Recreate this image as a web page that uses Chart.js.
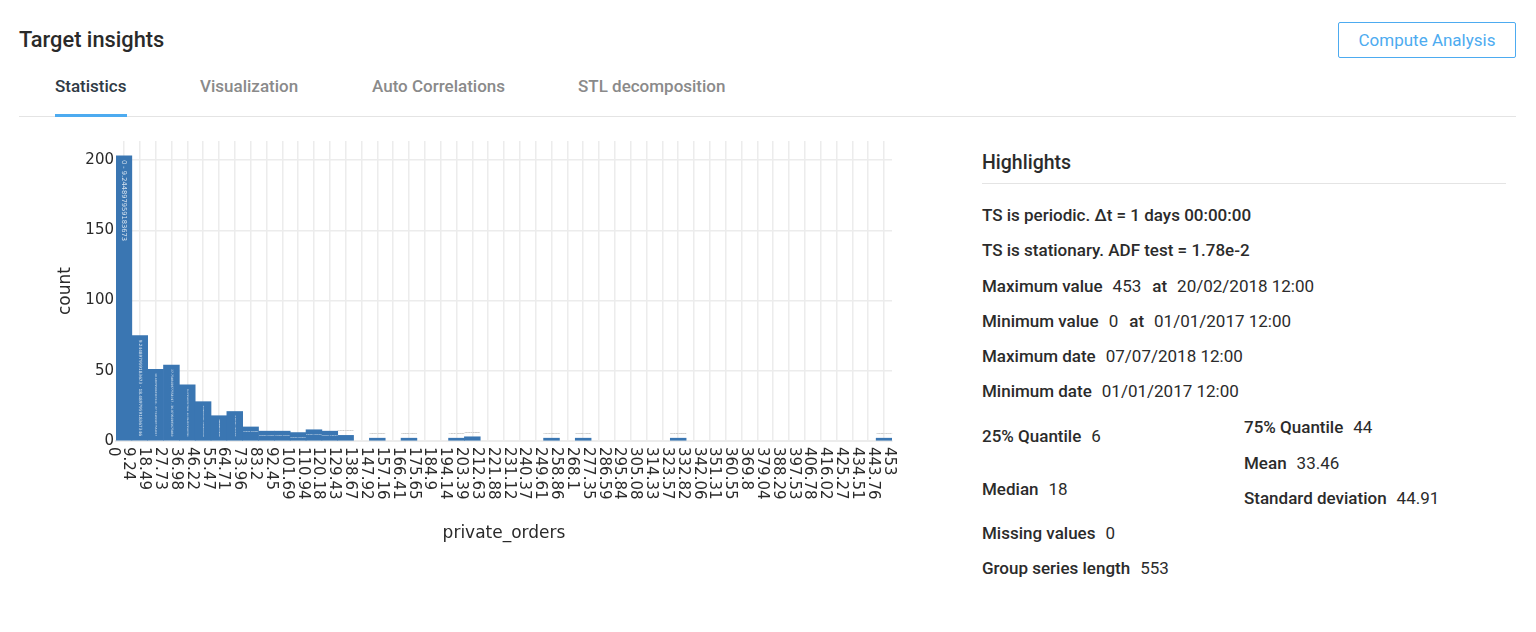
<!DOCTYPE html>
<html lang="en">
<head>
    <meta charset="UTF-8">
    <title>Target insights</title>
    <script src="https://cdn.jsdelivr.net/npm/chart.js"></script>
    <style>
        html, body { margin: 0; padding: 0; background: #fff; }
        body { width: 1536px; height: 632px; position: relative; overflow: hidden; font-family: Roboto, sans-serif; color: #2b2b2b; }
        .abs { position: absolute; white-space: nowrap; }
        h1 { margin: 0; font-size: 21.8px; font-weight: 500; left: 19px; top: 27px; color: #2a2a2a; }
        .btn { left: 1338px; top: 22px; width: 176px; height: 34px; line-height: 34px; border: 1px solid #4dabf0; border-radius: 2px; color: #4dabf0; text-align: center; font-size: 17px; }
        .tab { top: 76px; font-size: 17px; font-weight: 500; color: #8a8a8a; }
        .tab.on { color: #2f3a45; }
        .tab-line { left: 19px; top: 116px; width: 1497px; height: 1px; background: #e4e4e4; }
        .tab-on { left: 55px; top: 114px; width: 72px; height: 3px; background: #4dabf0; }
        #wrap { position: absolute; left: 50px; top: 130px; width: 870px; height: 416px; }
        h2 { margin: 0; font-size: 19.5px; font-weight: 500; left: 982px; top: 151px; }
        .hl-line { left: 982px; top: 183px; width: 524px; height: 1px; background: #e4e4e4; }
        .row { font-size: 17px; }
        .row b { font-weight: 500; }
        .row span { margin-left: 10px; }
        .row b.at { margin-left: 11px; }
    </style>
</head>
<body>
    <h1 class="abs">Target insights</h1>
    <div class="abs btn">Compute Analysis</div>
    <div class="abs tab on" style="left:55px">Statistics</div>
    <div class="abs tab" style="left:200px">Visualization</div>
    <div class="abs tab" style="left:372px">Auto Correlations</div>
    <div class="abs tab" style="left:578px">STL decomposition</div>
    <div class="abs tab-line"></div>
    <div class="abs tab-on"></div>

    <div id="wrap"><canvas id="histo"></canvas></div>

    <h2 class="abs">Highlights</h2>
    <div class="abs hl-line"></div>
    <div class="abs row" style="left:982px;top:205px"><b>TS is periodic. Δt = 1 days 00:00:00</b></div>
    <div class="abs row" style="left:982px;top:240px"><b>TS is stationary. ADF test = 1.78e-2</b></div>
    <div class="abs row" style="left:982px;top:276px"><b>Maximum value</b><span>453</span><b class="at">at</b><span>20/02/2018 12:00</span></div>
    <div class="abs row" style="left:982px;top:311px"><b>Minimum value</b><span>0</span><b class="at">at</b><span>01/01/2017 12:00</span></div>
    <div class="abs row" style="left:982px;top:346px"><b>Maximum date</b><span>07/07/2018 12:00</span></div>
    <div class="abs row" style="left:982px;top:381px"><b>Minimum date</b><span>01/01/2017 12:00</span></div>
    <div class="abs row" style="left:982px;top:426px"><b>25% Quantile</b><span>6</span></div>
    <div class="abs row" style="left:1244px;top:417px"><b>75% Quantile</b><span>44</span></div>
    <div class="abs row" style="left:1244px;top:453px"><b>Mean</b><span>33.46</span></div>
    <div class="abs row" style="left:982px;top:479px"><b>Median</b><span>18</span></div>
    <div class="abs row" style="left:1244px;top:488px"><b>Standard deviation</b><span>44.91</span></div>
    <div class="abs row" style="left:982px;top:523px"><b>Missing values</b><span>0</span></div>
    <div class="abs row" style="left:982px;top:558px"><b>Group series length</b><span>553</span></div>

    <script>
        // Bordas dos bins, como aparecem no eixo
        const tickLabels = ['0','9.24','18.49','27.73','36.98','46.22','55.47','64.71','73.96','83.2','92.45','101.69','110.94','120.18','129.43','138.67','147.92','157.16','166.41','175.65','184.9','194.14','203.39','212.63','221.88','231.12','240.37','249.61','258.86','268.1','277.35','286.59','295.84','305.08','314.33','323.57','332.82','342.06','351.31','360.55','369.8','379.04','388.29','397.53','406.78','416.02','425.27','434.51','443.76','453'];
        const counts = [203,75,51,54,40,28,18,21,10,7,7,6,8,7,4,0,2,0,2,0,0,2,3,0,0,0,0,2,0,2,0,0,0,0,0,2,0,0,0,0,0,0,0,0,0,0,0,0,2];
        const yTicks = [0,50,100,150,200];
        const barColor = '#3a76b2';
        const gridColor = '#ececec';

        const edges = tickLabels.map(Number);
        const binWidth = 453 / counts.length;
        // Bins vazios ficam sem barra
        const points = counts.map((c, i) => ({ x: (edges[i] + edges[i + 1]) / 2, y: c || null }));
        // Texto de cada barra (0 - 9.244897959183673 ...)
        const binText = counts.map((c, i) => `${i === 0 ? 0 : binWidth * i} - ${binWidth * (i + 1)}`);

        // Labels do eixo x giradas no sentido horário e o texto dentro das barras
        const histoLabels = {
            id: 'histoLabels',
            afterDatasetsDraw(chart) {
                const { ctx, scales: { x, y } } = chart;
                const meta = chart.getDatasetMeta(0);
                meta.data.forEach((bar, i) => {
                    if (!counts[i]) return;
                    const h = y.getPixelForValue(0) - bar.y;
                    ctx.save();
                    if (h > 18) {
                        // cabe dentro da barra, na vertical
                        const size = Math.min(6.7, (h - 8) / (binText[i].length * 0.6));
                        ctx.translate(bar.x, bar.y + 4);
                        ctx.rotate(Math.PI / 2);
                        ctx.font = `${size}px "DejaVu Sans"`;
                        ctx.fillStyle = 'rgba(255,255,255,0.8)';
                        ctx.textAlign = 'left';
                        ctx.textBaseline = 'middle';
                        ctx.fillText(binText[i], 0, 0);
                    } else if (h > 8) {
                        // barra baixa: texto minúsculo dentro
                        ctx.font = '0.7px "DejaVu Sans"';
                        ctx.fillStyle = 'rgba(255,255,255,0.8)';
                        ctx.textAlign = 'center';
                        ctx.fillText(binText[i], bar.x, bar.y + 5);
                    } else {
                        // sem espaço: texto minúsculo logo acima
                        ctx.font = '0.7px "DejaVu Sans"';
                        ctx.fillStyle = '#888';
                        ctx.textAlign = 'center';
                        ctx.fillText(binText[i], bar.x, bar.y - 4);
                    }
                    ctx.restore();
                });
                x.ticks.forEach((t) => {
                    ctx.save();
                    ctx.translate(x.getPixelForValue(t.value) - 3.5, x.top + 6);
                    ctx.rotate(Math.PI / 2);
                    ctx.font = '15px "DejaVu Sans"';
                    ctx.fillStyle = '#2a2a2a';
                    ctx.textAlign = 'left';
                    ctx.textBaseline = 'middle';
                    ctx.fillText(t.label, 0, 0);
                    ctx.restore();
                });
            }
        };

        new Chart(document.getElementById('histo'), {
            type: 'bar',
            data: {
                datasets: [{
                    label: 'count',
                    data: points,
                    backgroundColor: barColor,
                    borderWidth: 0,
                    barPercentage: 1,
                    categoryPercentage: 1,
                    grouped: false
                }]
            },
            plugins: [histoLabels],
            options: {
                responsive: true,
                maintainAspectRatio: false,
                animation: false,
                layout: { padding: { top: 11, right: 28, left: 0, bottom: 0 } },
                plugins: { legend: { display: false }, tooltip: { enabled: false } },
                scales: {
                    x: {
                        type: 'linear',
                        offset: false,
                        min: 0,
                        max: 453,
                        afterBuildTicks(scale) {
                            scale.ticks = edges.map(v => ({ value: v }));
                        },
                        afterFit(scale) { scale.height = 105; },
                        ticks: { display: false, autoSkip: false, callback: (v, i) => tickLabels[i] },
                        grid: { color: gridColor, lineWidth: 1.5, drawTicks: false },
                        border: { color: gridColor, width: 2 },
                        title: { display: true, text: 'private_orders', font: { family: '"DejaVu Sans"', size: 17 }, color: '#2a2a2a', padding: { top: 0, bottom: 2 } }
                    },
                    y: {
                        min: 0,
                        max: 213.6,
                        afterBuildTicks(scale) {
                            scale.ticks = yTicks.map(v => ({ value: v }));
                        },
                        afterFit(scale) { scale.width = 66; },
                        ticks: { font: { family: '"DejaVu Sans"', size: 15 }, color: '#2a2a2a', padding: 2 },
                        grid: { color: gridColor, lineWidth: 1.5, drawTicks: false },
                        border: { display: false },
                        title: { display: true, text: 'count', font: { family: '"DejaVu Sans"', size: 17 }, color: '#2a2a2a', padding: { top: 5, bottom: 0 } }
                    }
                }
            }
        });
    </script>
</body>
</html>
